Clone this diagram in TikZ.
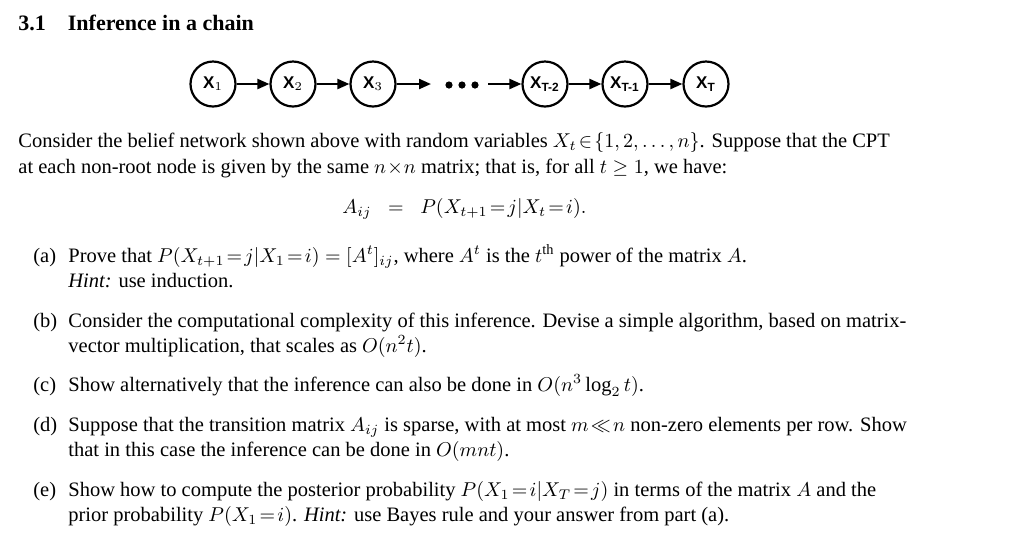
\documentclass[tikz,border=0pt]{standalone}
\usepackage{amsmath,amssymb}
\usepackage{fontspec}
\setmainfont{Liberation Serif}
\newfontfamily\helv{Liberation Sans}
\usetikzlibrary{arrows.meta}
\begin{document}
\begin{tikzpicture}[x=0.5pt,y=-0.5pt,
  rv/.style={circle,draw,line width=1.1pt,minimum size=22.5pt,inner sep=0pt,font=\helv\bfseries\fontsize{8.5}{9}\selectfont},
  arr/.style={line width=1.1pt,-{Triangle[length=6pt,width=5pt]}},
  dot/.style={circle,fill,inner sep=0pt,minimum size=3.6pt},
  ln/.style={anchor=base west,inner sep=0pt,font=\fontsize{10.25}{12}\selectfont}]
\useasboundingbox (0,0) rectangle (1024,554);
\node[anchor=base west,inner sep=0pt,font=\bfseries\fontsize{11}{13}\selectfont] (title) at (18,30) {3.1\hspace{11pt}Inference in a chain};
\node[rv] (x1) at (213,84) {X$_1$};
\node[rv] (x2) at (293,84) {X$_2$};
\node[rv] (x3) at (373,84) {X$_3$};
\node[dot] (d1) at (449,85) {};
\node[dot] (d2) at (462,85) {};
\node[dot] (d3) at (475,85) {};
\node[rv] (xt2) at (545,84) {X$_{\text{T-2}}$};
\node[rv] (xt1) at (625,84) {X$_{\text{T-1}}$};
\node[rv] (xt) at (706,84) {X$_{\text{T}}$};
\coordinate (a3) at (431,84);
\coordinate (b3) at (488,84);
\draw[arr] (x1) -- (x2);
\draw[arr] (x2) -- (x3);
\draw[arr] (x3) -- (a3);
\draw[arr] (b3) -- (xt2);
\draw[arr] (xt2) -- (xt1);
\draw[arr] (xt1) -- (xt);
\node[ln] (l1) at (18,147) {Consider the belief network shown above with random variables $X_t\!\in\!\{1,2,\dots,n\}$. Suppose that the CPT};
\node[ln] (l2) at (18,173) {at each non-root node is given by the same $n\!\times\! n$ matrix; that is, for all $t\geq 1$, we have:};
\node[ln] (eq) at (342,213) {$A_{ij}\;\;=\;\;P(X_{t+1}\!=\!j|X_t\!=\!i).$};
\node[ln] (la) at (33,262) {(a)};
\node[ln] (a1) at (68,262) {Prove that $P(X_{t+1}\!=\!j|X_1\!=\!i)=[A^t]_{ij}$, where $A^t$ is the $t^{\text{th}}$ power of the matrix $A$.};
\node[ln] (a2) at (68,287) {\textit{Hint:} use induction.};
\node[ln] (lb) at (33,327) {(b)};
\node[ln] (b1) at (68,327) {Consider the computational complexity of this inference. Devise a simple algorithm, based on matrix-};
\node[ln] (b2) at (68,352) {vector multiplication, that scales as $O(n^2t)$.};
\node[ln] (lc) at (33,391) {(c)};
\node[ln] (c1) at (68,391) {Show alternatively that the inference can also be done in $O(n^3\log_2 t)$.};
\node[ln] (ld) at (33,431) {(d)};
\node[ln] (d1l) at (68,431) {Suppose that the transition matrix $A_{ij}$ is sparse, with at most $m\!\ll\! n$ non-zero elements per row. Show};
\node[ln] (d2l) at (68,456) {that in this case the inference can be done in $O(mnt)$.};
\node[ln] (le) at (33,496) {(e)};
\node[ln] (e1) at (68,496) {Show how to compute the posterior probability $P(X_1\!=\!i|X_T\!=\!j)$ in terms of the matrix $A$ and the};
\node[ln] (e2) at (68,521) {prior probability $P(X_1\!=\!i)$. \textit{Hint:} use Bayes rule and your answer from part (a).};
\end{tikzpicture}
\end{document}
